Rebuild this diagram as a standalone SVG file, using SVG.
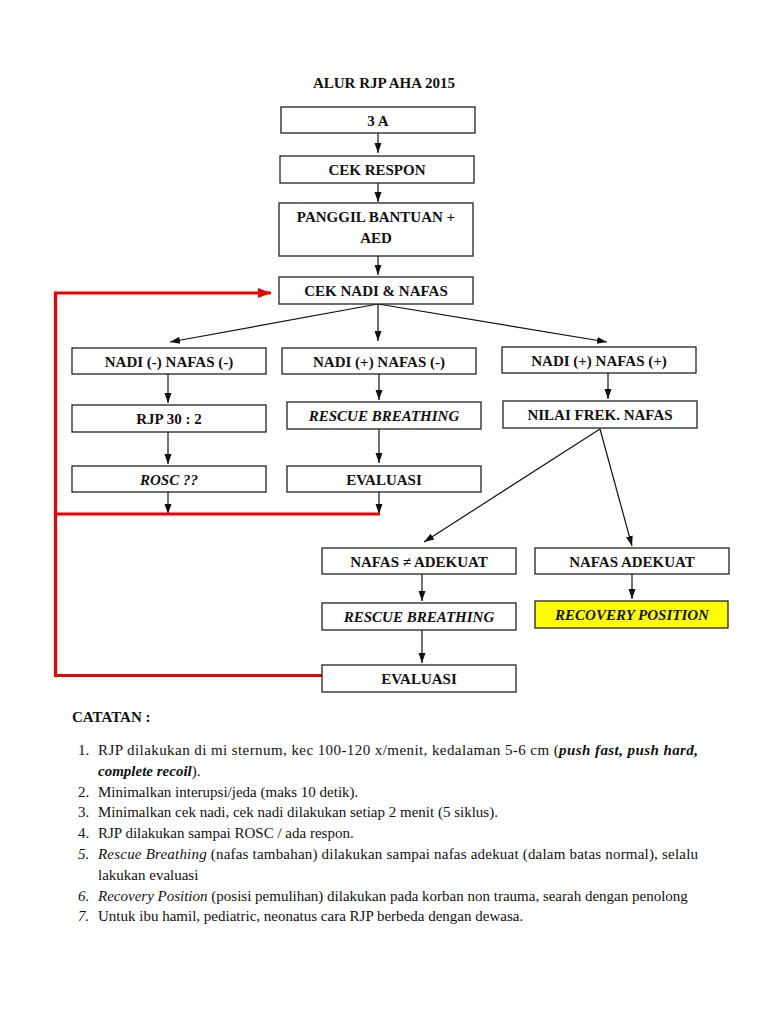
<svg xmlns="http://www.w3.org/2000/svg" width="768" height="1024" viewBox="0 0 768 1024">
<style>
.bg{fill:#fff}
.box{fill:#fff;stroke:#222;stroke-width:1.3}
.yel{fill:#ffff00;stroke:#222;stroke-width:1.3}
.t{font-family:"Liberation Serif","Times New Roman",serif;font-size:15px;font-weight:bold;text-anchor:middle;fill:#111}
.i{font-style:italic}
.c{stroke:#111;stroke-width:1.2;fill:none}
.r{stroke:#ee0000;stroke-width:3.2;fill:none}
.n{font-family:"Liberation Serif","Times New Roman",serif;font-size:15px;fill:#111}
</style>
<defs>
<marker id="a" markerUnits="userSpaceOnUse" markerWidth="10" markerHeight="10" viewBox="0 0 10 10" refX="10" refY="5" orient="auto">
<path d="M0,1.5 L10,5 L0,8.5 Z" fill="#111"/>
</marker>
<marker id="ra" markerUnits="userSpaceOnUse" markerWidth="13" markerHeight="11" viewBox="0 0 13 11" refX="13" refY="5.5" orient="auto">
<path d="M0,0.5 L13,5.5 L0,10.5 Z" fill="#ee0000"/>
</marker>
</defs>
<rect class="bg" x="0" y="0" width="768" height="1024"/>
<text class="t" x="384" y="88">ALUR RJP AHA 2015</text>

<g id="connectors">
<line class="c" x1="378" y1="133" x2="378" y2="153" marker-end="url(#a)"/>
<line class="c" x1="378" y1="183" x2="378" y2="202" marker-end="url(#a)"/>
<line class="c" x1="378" y1="256" x2="378" y2="275" marker-end="url(#a)"/>
<line class="c" x1="378" y1="304" x2="170" y2="342" marker-end="url(#a)"/>
<line class="c" x1="378" y1="304" x2="378" y2="341" marker-end="url(#a)"/>
<line class="c" x1="378" y1="304" x2="607" y2="342" marker-end="url(#a)"/>
<line class="c" x1="168" y1="374" x2="168" y2="403" marker-end="url(#a)"/>
<line class="c" x1="168" y1="432" x2="168" y2="464" marker-end="url(#a)"/>
<line class="c" x1="168" y1="492" x2="168" y2="514" marker-end="url(#a)"/>
<line class="c" x1="379" y1="374" x2="379" y2="400" marker-end="url(#a)"/>
<line class="c" x1="379" y1="429" x2="379" y2="463" marker-end="url(#a)"/>
<line class="c" x1="379" y1="492" x2="379" y2="514" marker-end="url(#a)"/>
<line class="c" x1="608" y1="373" x2="608" y2="399" marker-end="url(#a)"/>
<line class="c" x1="600" y1="429" x2="424" y2="542" marker-end="url(#a)"/>
<line class="c" x1="600" y1="429" x2="632" y2="546" marker-end="url(#a)"/>
<line class="c" x1="422" y1="574" x2="422" y2="601" marker-end="url(#a)"/>
<line class="c" x1="422" y1="630" x2="422" y2="663" marker-end="url(#a)"/>
<line class="c" x1="632" y1="574" x2="632" y2="599" marker-end="url(#a)"/>
<path class="r" d="M322,675.5 H55.5 V293 H271" marker-end="url(#ra)"/>
<path class="r" d="M55.5,514 H380"/>
</g>

<g id="n1"><rect class="box" x="281" y="107" width="194" height="26"/><text class="t" x="378" y="125.5">3 A</text></g>
<g id="n2"><rect class="box" x="280" y="156" width="194" height="27"/><text class="t" x="377" y="175">CEK RESPON</text></g>
<g id="n3"><rect class="box" x="279" y="203" width="194" height="53"/><text class="t" x="376" y="222">PANGGIL BANTUAN +</text><text class="t" x="376" y="243">AED</text></g>
<g id="n4"><rect class="box" x="279" y="277" width="194" height="27"/><text class="t" x="376" y="296">CEK NADI &amp; NAFAS</text></g>
<g id="n5"><rect class="box" x="72" y="348" width="194" height="26"/><text class="t" x="169" y="366.5">NADI (-) NAFAS (-)</text></g>
<g id="n6"><rect class="box" x="282" y="348" width="194" height="26"/><text class="t" x="379" y="366.5">NADI (+) NAFAS (-)</text></g>
<g id="n7"><rect class="box" x="502" y="347" width="194" height="26"/><text class="t" x="599" y="365.5">NADI (+) NAFAS (+)</text></g>
<g id="n8"><rect class="box" x="72" y="405" width="194" height="27"/><text class="t" x="169" y="424">RJP 30 : 2</text></g>
<g id="n9"><rect class="box" x="287" y="402" width="194" height="27"/><text class="t i" x="384" y="421">RESCUE BREATHING</text></g>
<g id="n10"><rect class="box" x="503" y="401" width="194" height="27"/><text class="t" x="600" y="420">NILAI FREK. NAFAS</text></g>
<g id="n11"><rect class="box" x="72" y="466" width="194" height="26"/><text class="t i" x="169" y="484.5">ROSC ??</text></g>
<g id="n12"><rect class="box" x="287" y="466" width="194" height="26"/><text class="t" x="384" y="484.5">EVALUASI</text></g>
<g id="n13"><rect class="box" x="322" y="548" width="194" height="26"/><text class="t" x="419" y="566.5">NAFAS ≠ ADEKUAT</text></g>
<g id="n14"><rect class="box" x="535" y="548" width="194" height="26"/><text class="t" x="632" y="566.5">NAFAS ADEKUAT</text></g>
<g id="n15"><rect class="box" x="322" y="603" width="194" height="27"/><text class="t i" x="419" y="622">RESCUE BREATHING</text></g>
<g id="n16"><rect class="yel" x="535" y="601" width="193" height="27"/><text class="t i" x="632" y="620">RECOVERY POSITION</text></g>
<g id="n17"><rect class="box" x="322" y="665" width="194" height="27"/><text class="t" x="419" y="684">EVALUASI</text></g>

<g id="notes">
<text class="n" x="72" y="722" font-weight="bold">CATATAN :</text>
<text class="n" x="78" y="755">1.</text>
<text class="n" x="98" y="755" textLength="600" lengthAdjust="spacing">RJP dilakukan di mi sternum, kec 100-120 x/menit, kedalaman 5-6 cm (<tspan font-weight="bold" font-style="italic">push fast, push hard,</tspan></text>
<text class="n" x="98" y="776"><tspan font-weight="bold" font-style="italic">complete recoil</tspan>).</text>
<text class="n" x="78" y="797">2.</text>
<text class="n" x="98" y="797">Minimalkan interupsi/jeda (maks 10 detik).</text>
<text class="n" x="78" y="817">3.</text>
<text class="n" x="98" y="817">Minimalkan cek nadi, cek nadi dilakukan setiap 2 menit (5 siklus).</text>
<text class="n" x="78" y="838">4.</text>
<text class="n" x="98" y="838">RJP dilakukan sampai ROSC / ada respon.</text>
<text class="n" x="78" y="859" font-style="italic">5.</text>
<text class="n" x="98" y="859" textLength="600" lengthAdjust="spacing"><tspan font-style="italic">Rescue Breathing</tspan> (nafas tambahan) dilakukan sampai nafas adekuat (dalam batas normal), selalu</text>
<text class="n" x="98" y="880">lakukan evaluasi</text>
<text class="n" x="78" y="901" font-style="italic">6.</text>
<text class="n" x="98" y="901"><tspan font-style="italic">Recovery Position</tspan> (posisi pemulihan) dilakukan pada korban non trauma, searah dengan penolong</text>
<text class="n" x="78" y="921" font-style="italic">7.</text>
<text class="n" x="98" y="921">Untuk ibu hamil, pediatric, neonatus cara RJP berbeda dengan dewasa.</text>
</g>
</svg>
